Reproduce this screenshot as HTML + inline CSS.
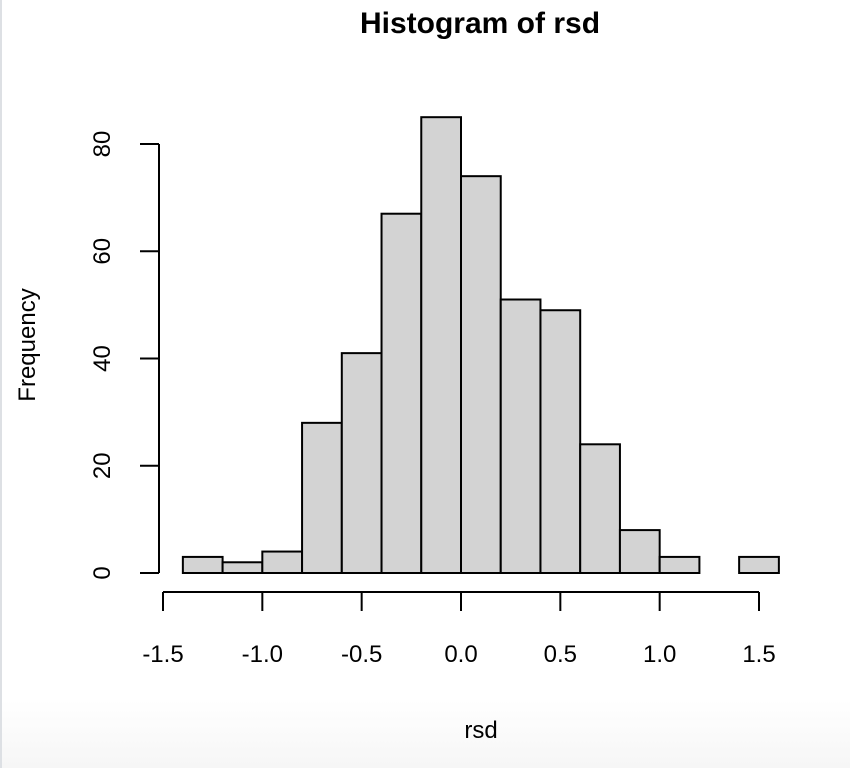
<!DOCTYPE html>
<html><head><meta charset="utf-8"><style>
html,body{margin:0;padding:0;background:#fff;}
svg{display:block;font-family:"Liberation Sans",Arial,sans-serif;}
</style></head><body>
<svg id="chart" width="850" height="768" viewBox="0 0 850 768">
<defs><linearGradient id="bg" x1="0" y1="0" x2="0" y2="1"><stop offset="0" stop-color="#fff"/><stop offset="1" stop-color="#f6f6f6"/></linearGradient></defs>
<rect x="0" y="0" width="850" height="768" fill="#fff"/>
<rect x="0" y="700" width="850" height="68" fill="url(#bg)"/>
<rect x="0" y="0" width="2" height="768" fill="#dde0e4"/>
<text x="480" y="33" text-anchor="middle" font-size="30" font-weight="bold">Histogram of rsd</text>
<text x="481" y="738" text-anchor="middle" font-size="24">rsd</text>
<text transform="translate(35,345) rotate(-90)" text-anchor="middle" font-size="24">Frequency</text>
<g id="bars"></g>
<g id="xaxis"></g>
<g id="yaxis"></g>
</svg>
<script>
const binStarts = [-1.4,-1.2,-1.0,-0.8,-0.6,-0.4,-0.2,0.0,0.2,0.4,0.6,0.8,1.0,1.2,1.4];
const counts = [3,2,4,28,41,67,85,74,51,49,24,8,3,0,3];
const binWidth = 0.2;
const xTicks = [-1.5,-1.0,-0.5,0.0,0.5,1.0,1.5];
const xTickLabels = ["-1.5","-1.0","-0.5","0.0","0.5","1.0","1.5"];
const yTicks = [0,20,40,60,80];
const yTickLabels = ["0","20","40","60","80"];

const NS="http://www.w3.org/2000/svg";
function xs(v){return 461+v*198.67;}
function ys(v){return 573-v*(573-144)/80;}
function mk(tag,attrs,parent){const e=document.createElementNS(NS,tag);for(const k in attrs)e.setAttribute(k,attrs[k]);parent.appendChild(e);return e;}

const bars=document.getElementById('bars');
binStarts.forEach((b,i)=>{
  if(counts[i]===0) return;
  const x0=xs(b),x1=xs(b+binWidth),y=ys(counts[i]);
  const r=mk('rect',{x:x0,y:y,width:x1-x0,height:ys(0)-y,fill:'#d3d3d3',stroke:'#000','stroke-width':2},bars);
  
  
});

const xa=document.getElementById('xaxis');
const xl=mk('line',{x1:xs(xTicks[0]),x2:xs(xTicks[xTicks.length-1]),y1:592,y2:592,stroke:'#000','stroke-width':2},xa);


xTicks.forEach((t,i)=>{
  const tk=mk('line',{x1:xs(t),x2:xs(t),y1:592,y2:611,stroke:'#000','stroke-width':2},xa);
  
  
  const tx=mk('text',{x:xs(t),y:662,'text-anchor':'middle','font-size':24},xa);
  tx.textContent=xTickLabels[i];
  
  
});

const ya=document.getElementById('yaxis');
const yl=mk('line',{x1:159,x2:159,y1:ys(yTicks[0]),y2:ys(yTicks[yTicks.length-1]),stroke:'#000','stroke-width':2},ya);


yTicks.forEach((t,i)=>{
  const tk=mk('line',{x1:140,x2:159,y1:ys(t),y2:ys(t),stroke:'#000','stroke-width':2},ya);
  
  
  const tx=mk('text',{transform:'translate(110,'+ys(t)+') rotate(-90)','text-anchor':'middle','font-size':24},ya);
  tx.textContent=yTickLabels[i];
  
  
});
</script>
</body></html>
